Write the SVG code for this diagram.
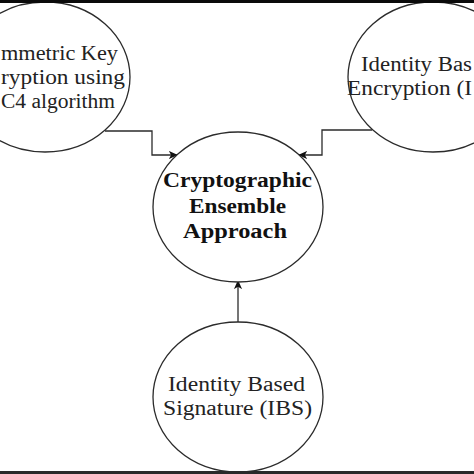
<svg xmlns="http://www.w3.org/2000/svg" width="474" height="474" viewBox="0 0 474 474">
  <style>
    .node { fill: #ffffff; stroke: #2b2b2b; stroke-width: 1.3; }
    .lbl { font-family: "Liberation Serif", "Times New Roman", serif; font-size: 20px; fill: #222222; }
    .bold { font-weight: bold; fill: #111111; }
    .edge { fill: none; stroke: #2b2b2b; stroke-width: 1.3; }
  </style>
  <defs>
    <marker id="arrow" viewBox="0 0 10 10" refX="9" refY="5" markerWidth="9" markerHeight="9" markerUnits="userSpaceOnUse" orient="auto">
      <path d="M0,0.5 L10,5 L0,9.5 L2.5,5 Z" fill="#111111"/>
    </marker>
  </defs>
  <rect x="0" y="0" width="474" height="474" fill="#ffffff"/>

  <g id="edges">
    <path class="edge" d="M105,131 H152 V155 H177" marker-end="url(#arrow)"/>
    <path class="edge" d="M372,130 H322 V155 H299" marker-end="url(#arrow)"/>
    <path class="edge" d="M238,322 V281" marker-end="url(#arrow)"/>
  </g>

  <g id="node-symmetric">
    <ellipse class="node" cx="45" cy="77" rx="85" ry="75"/>
    <text class="lbl" x="1" y="60" textLength="117" lengthAdjust="spacingAndGlyphs">mmetric Key</text>
    <text class="lbl" x="1" y="84" textLength="124" lengthAdjust="spacingAndGlyphs">ryption using</text>
    <text class="lbl" x="1" y="108" textLength="114" lengthAdjust="spacingAndGlyphs">C4 algorithm</text>
  </g>

  <g id="node-ibe">
    <ellipse class="node" cx="433" cy="77" rx="85" ry="75"/>
    <text class="lbl" x="361" y="71" textLength="111" lengthAdjust="spacingAndGlyphs">Identity Bas</text>
    <text class="lbl" x="347" y="95" textLength="125" lengthAdjust="spacingAndGlyphs">Encryption (I</text>
  </g>

  <g id="node-center">
    <ellipse class="node" cx="238" cy="207" rx="85" ry="75"/>
    <text class="lbl bold" x="237.5" y="187" text-anchor="middle" textLength="149" lengthAdjust="spacingAndGlyphs">Cryptographic</text>
    <text class="lbl bold" x="237.5" y="213" text-anchor="middle" textLength="97" lengthAdjust="spacingAndGlyphs">Ensemble</text>
    <text class="lbl bold" x="235" y="238" text-anchor="middle" textLength="104" lengthAdjust="spacingAndGlyphs">Approach</text>
  </g>

  <g id="node-ibs">
    <ellipse class="node" cx="238" cy="397" rx="85" ry="75"/>
    <text class="lbl" x="236.5" y="391" text-anchor="middle" textLength="137" lengthAdjust="spacingAndGlyphs">Identity Based</text>
    <text class="lbl" x="237.5" y="415" text-anchor="middle" textLength="149" lengthAdjust="spacingAndGlyphs">Signature (IBS)</text>
  </g>

  <rect x="0" y="0" width="474" height="3" fill="#0a0a0a"/>
  <rect x="0" y="471" width="474" height="3" fill="#2a2a2a"/>
</svg>
